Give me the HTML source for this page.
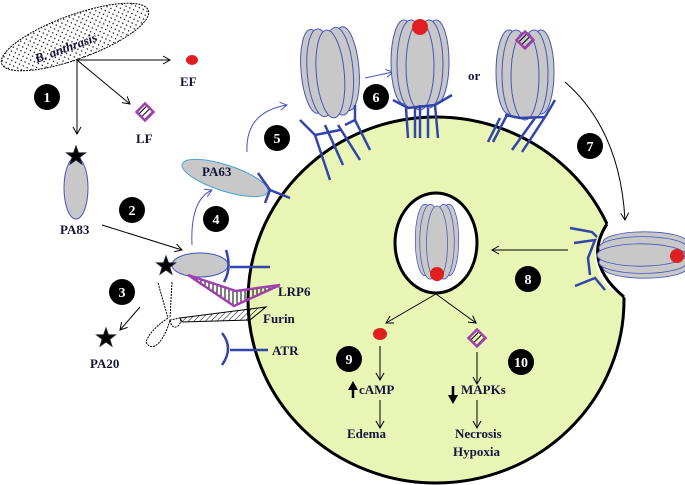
<!DOCTYPE html>
<html><head><meta charset="utf-8"><style>
body{margin:0;background:#fff}
svg{display:block}
text{font-family:"Liberation Serif",serif;font-weight:bold;fill:#15153a;font-size:13px}
.n{fill:#fff;font-size:14px;text-anchor:middle}
</style></head><body>
<svg width="685" height="485" viewBox="0 0 685 485" xmlns="http://www.w3.org/2000/svg">
<defs>
<pattern id="dots" width="6" height="6" patternUnits="userSpaceOnUse"><circle cx="1.5" cy="1.5" r="0.7" fill="#000"/><circle cx="4.5" cy="4.5" r="0.7" fill="#000"/></pattern>
<pattern id="hatch" width="4" height="4" patternUnits="userSpaceOnUse" patternTransform="rotate(45)"><line x1="0" y1="0" x2="0" y2="4" stroke="#000" stroke-width="1"/></pattern>
<pattern id="vhatch" width="4" height="4" patternUnits="userSpaceOnUse"><line x1="1" y1="0" x2="1" y2="4" stroke="#000" stroke-width="1"/></pattern>
<marker id="a" markerWidth="10" markerHeight="10" refX="8" refY="5" orient="auto" markerUnits="userSpaceOnUse"><path d="M1,1 L8,5 L1,9" fill="none" stroke="#000" stroke-width="1"/></marker>
<marker id="ab" markerWidth="10" markerHeight="10" refX="8" refY="5" orient="auto" markerUnits="userSpaceOnUse"><path d="M1,1 L8,5 L1,9" fill="none" stroke="#4455bb" stroke-width="1"/></marker>
<marker id="big" markerWidth="10" markerHeight="10" refX="5" refY="5" orient="auto" markerUnits="userSpaceOnUse"><path d="M0,0 L9,5 L0,10 Z" fill="#000"/></marker>
<g id="hep">
<ellipse cx="-16" cy="0" rx="13" ry="42" fill="#c8c8c8" stroke="#4455bb"/>
<ellipse cx="16" cy="0" rx="13" ry="42" fill="#c8c8c8" stroke="#4455bb"/>
<ellipse cx="-9" cy="2" rx="14" ry="44" fill="#c8c8c8" stroke="#4455bb"/>
<ellipse cx="9" cy="2" rx="14" ry="44" fill="#c8c8c8" stroke="#4455bb"/>
<ellipse cx="0" cy="4" rx="14" ry="44" fill="#c8c8c8" stroke="#4455bb"/>
</g>
<g id="dia"><rect x="-6" y="-6" width="12" height="12" transform="rotate(45)" fill="url(#vhatch)" stroke="#a040b0" stroke-width="2.5"/></g>
<g id="num"><circle r="13" fill="#000"/></g>
<polygon id="star" points="0,-10 2.4,-3.2 9.5,-3.1 3.8,1.2 5.9,8.1 0,4 -5.9,8.1 -3.8,1.2 -9.5,-3.1 -2.4,-3.2" fill="#000" stroke="#223" stroke-width="1"/>
</defs>

<!-- cell -->
<ellipse cx="436" cy="300" rx="188" ry="183" fill="#e8f5b5" stroke="#000" stroke-width="3"/>
<circle cx="640" cy="255" r="45" fill="#fff"/>
<path d="M607,224 Q582,262 624,297" fill="none" stroke="#000" stroke-width="3"/>

<!-- B. anthrasis -->
<ellipse cx="75" cy="37" rx="78" ry="22" transform="rotate(-20 75 37)" fill="url(#dots)" stroke="#000" stroke-dasharray="2,1"/>
<text x="32" y="54" transform="rotate(-20 60 45)" font-style="italic" font-size="13">B. anthrasis</text>
<line x1="77" y1="60" x2="170" y2="60" stroke="#000" marker-end="url(#a)"/>
<line x1="77" y1="60" x2="130" y2="104" stroke="#000" marker-end="url(#a)"/>
<line x1="77" y1="60" x2="77" y2="134" stroke="#000" marker-end="url(#a)"/>
<ellipse cx="192" cy="60" rx="6" ry="5" fill="#e02020"/>
<text x="180" y="86">EF</text>
<use href="#dia" x="145" y="112"/>
<text x="136" y="143">LF</text>

<!-- PA83 -->
<ellipse cx="76" cy="188" rx="12" ry="31" fill="#c8c8c8" stroke="#4455bb"/>
<use href="#star" x="76" y="156"/>
<text x="60" y="234" font-size="12">PA83</text>
<line x1="102" y1="225" x2="182" y2="250" stroke="#000" marker-end="url(#a)"/>

<!-- PA63 -->
<ellipse cx="225" cy="178" rx="45" ry="13" transform="rotate(18 225 178)" fill="#c8c8c8" stroke="#4aa0d0"/>
<text x="202" y="176">PA63</text>
<path d="M258,173 L270,190 L290,198 M270,190 L265,203" stroke="#3344aa" stroke-width="2.5" fill="none"/>
<path d="M192,245 Q190,200 212,190" fill="none" stroke="#4455bb" marker-end="url(#ab)"/>
<path d="M247,152 Q245,112 287,105" fill="none" stroke="#4455bb" marker-end="url(#ab)"/>

<!-- PA83 bound -->
<ellipse cx="200" cy="265" rx="28" ry="12" fill="#c8c8c8" stroke="#4455bb"/>
<use href="#star" x="166" y="266"/>
<path d="M226,250 Q232,268 224,282 M230,267 L270,267" stroke="#3344aa" stroke-width="2.5" fill="none"/>
<polygon points="188,275 234,306 280,285 236,291" fill="url(#vhatch)" stroke="#a040b0" stroke-width="2.5"/>
<text x="278" y="296">LRP6</text>
<polygon points="180,318 266,307 250,320 182,322" fill="url(#hatch)" stroke="#000"/>
<text x="263" y="323">Furin</text>
<path d="M222,333 Q234,348 222,365 M230,350 L268,350" stroke="#3344aa" stroke-width="2.5" fill="none"/>
<text x="272" y="355">ATR</text>
<!-- scissors -->
<g fill="none" stroke="#000" stroke-dasharray="2,1">
<path d="M158,283 L168,318 M172,282 L170,318"/>
<path d="M168,318 Q150,330 146,342 Q150,350 158,344 Q166,335 170,320"/>
<path d="M170,320 Q172,330 178,326 Q182,322 180,318 Z"/>
</g>
<line x1="140" y1="307" x2="120" y2="330" stroke="#000" marker-end="url(#a)"/>
<use href="#star" x="106" y="338"/>
<text x="90" y="368">PA20</text>

<!-- heptamers top -->
<g transform="translate(330,70) rotate(-5)"><use href="#hep"/></g>
<path d="M300,120 L315,135 L330,180 M315,135 L340,130 M355,105 L355,120 L370,150 M355,120 L345,125 M325,125 L343,165 M338,125 L360,160" stroke="#3344aa" stroke-width="2.5" fill="none"/>
<line x1="365" y1="78" x2="393" y2="72" stroke="#4455bb" marker-end="url(#ab)"/>
<use href="#hep" x="420" y="62"/>
<circle cx="420" cy="27" r="8" fill="#e02020"/>
<path d="M393,100 L408,108 L435,105 L452,95 M406,108 L408,138 M420,105 L420,138 M435,105 L438,138 M415,108 L415,138 M428,108 L428,138" stroke="#3344aa" stroke-width="2.5" fill="none"/>
<text x="468" y="80">or</text>
<use href="#hep" x="525" y="72"/>
<use href="#dia" x="525" y="40"/>
<path d="M505,115 L520,118 L545,117 L555,100 M507,115 L493,142 M545,117 L522,152 M500,118 L488,142 M535,118 L512,150" stroke="#3344aa" stroke-width="2.5" fill="none"/>
<path d="M565,82 Q620,130 625,220" fill="none" stroke="#000" marker-end="url(#a)"/>

<!-- notch heptamer -->
<g transform="translate(645,255) rotate(90) scale(0.8 1)"><use href="#hep"/></g>
<circle cx="677" cy="256" r="7" fill="#e02020"/>
<path d="M570,228 L592,232 L597,237 M574,243 L595,240 L588,258 L590,275 M575,286 L595,278 L605,290" stroke="#3344aa" stroke-width="2.5" fill="none"/>
<line x1="568" y1="250" x2="492" y2="250" stroke="#000" marker-end="url(#a)"/>

<!-- endosome -->
<ellipse cx="436" cy="243" rx="41" ry="50" fill="#fff" stroke="#000" stroke-width="3"/>
<g transform="translate(437,240) scale(0.75 0.85)"><use href="#hep"/></g>
<circle cx="437" cy="274" r="7" fill="#e02020"/>
<line x1="436" y1="294" x2="386" y2="323" stroke="#000" marker-end="url(#a)"/>
<line x1="436" y1="294" x2="476" y2="323" stroke="#000" marker-end="url(#a)"/>
<ellipse cx="380" cy="334" rx="7" ry="6" fill="#e02020"/>
<use href="#dia" x="477" y="338"/>
<line x1="380" y1="346" x2="380" y2="380" stroke="#000" marker-end="url(#a)"/>
<line x1="477" y1="352" x2="477" y2="384" stroke="#000" marker-end="url(#a)"/>
<line x1="353" y1="398" x2="353" y2="385" stroke="#000" stroke-width="2.5" marker-end="url(#big)"/>
<text x="359" y="394">cAMP</text>
<line x1="380" y1="400" x2="380" y2="428" stroke="#000" marker-end="url(#a)"/>
<text x="347" y="438">Edema</text>
<line x1="453" y1="386" x2="453" y2="400" stroke="#000" stroke-width="2.5" marker-end="url(#big)"/>
<text x="461" y="394">MAPKs</text>
<line x1="477" y1="400" x2="477" y2="428" stroke="#000" marker-end="url(#a)"/>
<text x="455" y="438">Necrosis</text>
<text x="453" y="456">Hypoxia</text>

<!-- numbers -->
<g><use href="#num" x="47" y="97"/><text class="n" x="47" y="102">1</text></g>
<g><use href="#num" x="132" y="210"/><text class="n" x="132" y="215">2</text></g>
<g><use href="#num" x="122" y="292"/><text class="n" x="122" y="297">3</text></g>
<g><use href="#num" x="216" y="219"/><text class="n" x="216" y="224">4</text></g>
<g><use href="#num" x="277" y="138"/><text class="n" x="277" y="143">5</text></g>
<g><use href="#num" x="376" y="97"/><text class="n" x="376" y="102">6</text></g>
<g><use href="#num" x="590" y="146"/><text class="n" x="590" y="151">7</text></g>
<g><use href="#num" x="528" y="279"/><text class="n" x="528" y="284">8</text></g>
<g><use href="#num" x="349" y="359"/><text class="n" x="349" y="364">9</text></g>
<g><use href="#num" x="521" y="362"/><text class="n" x="521" y="367">10</text></g>
</svg>
</body></html>
